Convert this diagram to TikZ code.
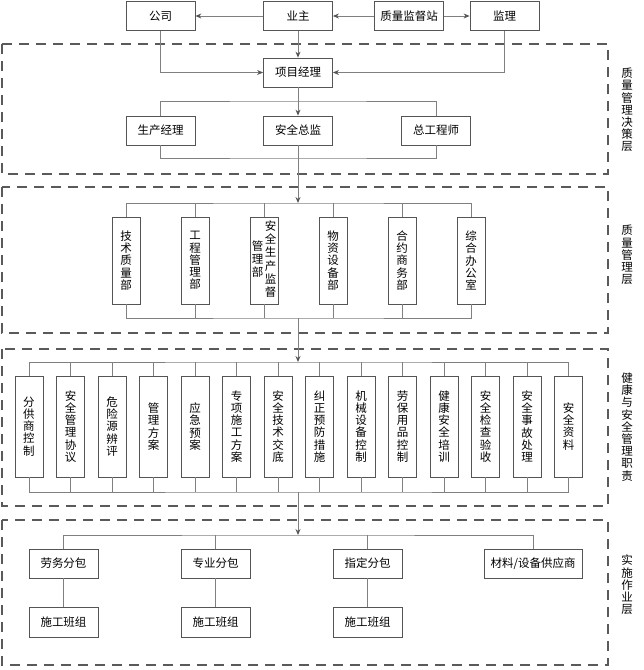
\documentclass[tikz,border=0pt]{standalone}
\usepackage{fontspec}
\setmainfont{Noto Sans CJK SC}
\usepackage{xcolor}
\definecolor{cLine}{HTML}{808080}
\definecolor{cBox}{HTML}{555555}
\definecolor{cDash}{HTML}{5A5A5A}
\usepackage{tikz}
\usetikzlibrary{positioning,arrows.meta,calc}
\tikzset{
  node-box/.style={draw=cBox,line width=0.8pt,fill=white,minimum width=69pt,
    minimum height=29pt,inner sep=1pt,align=center,
    font=\fontsize{11.5}{12.2}\selectfont},
  node-vbox/.style={draw=cBox,line width=0.8pt,fill=white,minimum width=28pt,
    inner sep=0pt,align=center,font=\fontsize{11.5}{12.2}\selectfont},
  node-layer/.style={align=center,inner sep=0pt,
    font=\fontsize{11.5}{12.2}\selectfont},
  % 虚线框 = 管理层级
  layer/.style={draw=cDash,line width=1.3pt,dash pattern=on 10pt off 7pt},
  link/.style={draw=cLine,line width=0.9pt},
  arrow/.style={-{Stealth[length=6pt,width=5pt,color=cBox]},line width=0.9pt,draw=cLine},
}
\newcommand\vstack[1]{\begin{tabular}[c]{@{}c@{}}#1\end{tabular}}

\begin{document}
\begin{tikzpicture}[x=1pt,y=-1pt]
  \useasboundingbox (0,0) rectangle (644,670);
  \draw[layer] (2,44) rectangle (608,174);
  \draw[layer] (2,187) rectangle (608,333);
  \draw[layer] (2,349) rectangle (608,506);
  \draw[layer] (2,520) rectangle (608,665);
  \node[node-layer] (lay1) at (627,110) {质\\量\\管\\理\\决\\策\\层};
  \node[node-layer] (lay2) at (627,255) {质\\量\\管\\理\\层};
  \node[node-layer] (lay3) at (627,427) {健\\康\\与\\安\\全\\管\\理\\职\\责};
  \node[node-layer] (lay4) at (627,585) {实\\施\\作\\业\\层};

  % 决策层
  \node[node-box] (company) at (160.5,16) {公司};
  \node[node-box] (owner) at (298,16) {业主};
  \node[node-box] (station) at (409,16) {质量监督站};
  \node[node-box] (supervisor) at (504.5,16) {监理};
  \node[node-box] (pm) at (298,72.5) {项目经理};
  \node[node-box] (prod) at (160.5,130.5) {生产经理};
  \node[node-box] (safety) at (298,130.5) {安全总监};
  \node[node-box] (chief) at (436,130.5) {总工程师};

  \draw[arrow] (owner) -- (company);
  \draw[arrow] (station) -- (owner);
  \draw[arrow] (station) -- (supervisor);
  \draw[arrow] (owner) -- (pm);
  \draw[arrow] (company) |- (pm);
  \draw[arrow] (supervisor) |- (pm);
  \coordinate (bus1t) at (298,101);
  \coordinate (bus1b) at (298,158);
  \draw[link] (prod.north) |- (bus1t) -| (chief.north);
  \draw[link] (prod.south) |- (bus1b) -| (chief.south);
  \draw[arrow] (pm) -- (safety);

  % 管理层
  \coordinate (bus2t) at (298,203);
  \coordinate (bus2b) at (298,318);
  \draw[arrow] (safety) -- (bus2t);
  \foreach \t [count=\i] in {{技\\术\\质\\量\\部},{工\\程\\管\\理\\部},
      {\vstack{管\\理\\部}\hspace{1.5pt}\vstack{安\\全\\生\\产\\监\\督}},
      {物\\资\\设\\备\\部},{合\\约\\商\\务\\部},{综\\合\\办\\公\\室}}
    \node[node-vbox,minimum height=87pt] (dept\i) at ({57+69*\i},260.5) {\t};
  \draw[link] (dept1.north) |- (bus2t) -| (dept6.north);
  \draw[link] (dept1.south) |- (bus2b) -| (dept6.south);
  \foreach \i in {2,...,5} {
    \draw[link] (dept\i.north) -- (dept\i.north |- bus2t);
    \draw[link] (dept\i.south) -- (dept\i.south |- bus2b);
  }

  % 职责
  \coordinate (bus3t) at (298,362);
  \coordinate (bus3b) at (298,492);
  \draw[arrow] (bus2b) -- (bus3t);
  \foreach \t [count=\i] in {{分\\供\\商\\控\\制},{安\\全\\管\\理\\协\\议},
      {危\\险\\源\\辨\\评},{管\\理\\方\\案},{应\\急\\预\\案},
      {专\\项\\施\\工\\方\\案},{安\\全\\技\\术\\交\\底},{纠\\正\\预\\防\\措\\施},
      {机\\械\\设\\备\\控\\制},{劳\\保\\用\\品\\控\\制},{健\\康\\安\\全\\培\\训},
      {安\\全\\检\\查\\验\\收},{安\\全\\事\\故\\处\\理},{安\\全\\资\\料}}
    \node[node-vbox,minimum height=101pt] (duty\i) at ({-12.5+41.5*\i},426.5) {\t};
  \draw[link] (duty1.north) |- (bus3t) -| (duty14.north);
  \draw[link] (duty1.south) |- (bus3b) -| (duty14.south);
  \foreach \i in {2,...,13} {
    \draw[link] (duty\i.north) -- (duty\i.north |- bus3t);
    \draw[link] (duty\i.south) -- (duty\i.south |- bus3b);
  }

  % 实施作业层
  \coordinate (bus4t) at (298,535);
  \draw[arrow] (bus3b) -- (bus4t);
  \node[node-box] (labour) at (63.5,563.5) {劳务分包};
  \node[node-box] (special) at (215.5,563.5) {专业分包};
  \node[node-box] (assigned) at (367.5,563.5) {指定分包};
  \node[node-box,minimum width=98pt] (supplier) at (533,563.5) {材料/设备供应商};
  \node[node-box,minimum height=30pt] (team1) at (63.5,622) {施工班组};
  \node[node-box,minimum height=30pt] (team2) at (215.5,622) {施工班组};
  \node[node-box,minimum height=30pt] (team3) at (367.5,622) {施工班组};
  \draw[link] (labour.north) |- (bus4t) -| (supplier.north);
  \draw[link] (special.north) -- (special.north |- bus4t);
  \draw[link] (assigned.north) -- (assigned.north |- bus4t);
  \draw[link] (labour) -- (team1);
  \draw[link] (special) -- (team2);
  \draw[link] (assigned) -- (team3);
\end{tikzpicture}
\end{document}
